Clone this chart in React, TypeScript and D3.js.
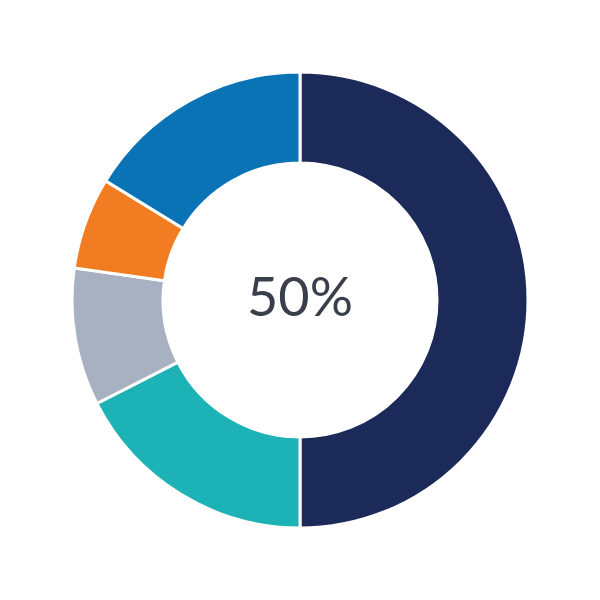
import React from "react";
import * as d3 from "d3";

const labels = ["A", "B", "C", "D", "E"];
const values = [50, 17.5, 9.75, 6.5, 16.25];
const colors = ["#1c2a59", "#1db3b6", "#a7b1c1", "#f27c21", "#0a73b5"];
const centerLabel = "50%";

export default function App() {
  const width = 600,
    height = 600;
  const cx = 300,
    cy = 300;
  const outer = 228,
    inner = 137;

  const pie = d3
    .pie<number>()
    .sort(null)
    .value((d) => d);
  const arcs = pie(values);
  const arc = d3.arc<d3.PieArcDatum<number>>().innerRadius(inner).outerRadius(outer);

  return (
    <svg
      width={width}
      height={height}
      style={{ position: "absolute", left: 0, top: 0, background: "#fff" }}
    >
      <g transform={`translate(${cx},${cy})`}>
        {arcs.map((a, i) => (
          <path
            key={labels[i]}
            d={arc(a) || ""}
            fill={colors[i]}
            stroke="#fff"
            strokeWidth={3}
          />
        ))}
        <text
          x={0}
          y={-3}
          dy="0.35em"
          textAnchor="middle"
          fontFamily="Lato, sans-serif"
          fontSize={54}
          fill="#3a3f4b"
        >
          {centerLabel}
        </text>
      </g>
    </svg>
  );
}
